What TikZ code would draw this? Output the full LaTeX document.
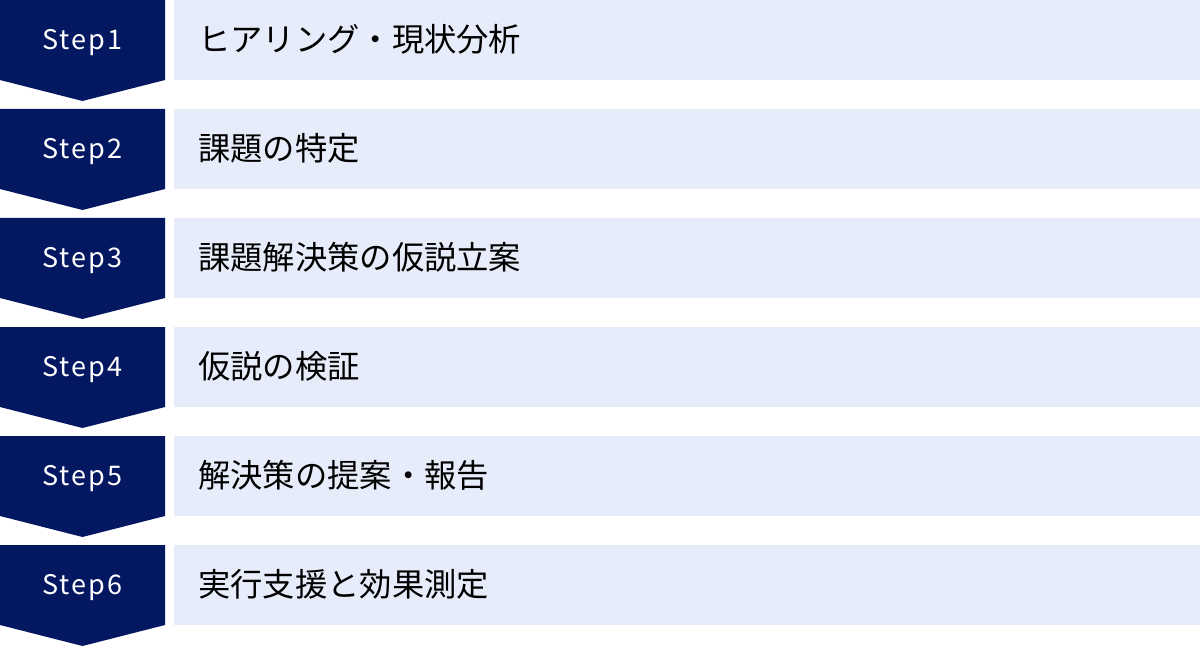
\documentclass[tikz,border=0pt]{standalone}
\usepackage{fontspec}
\setmainfont{Noto Sans CJK JP}
\newfontfamily\stepfont[LetterSpace=8]{Noto Sans CJK JP}
\begin{document}
\begin{tikzpicture}[x=1pt, y=-1pt]
\definecolor{navy}{HTML}{041761}
\definecolor{pale}{HTML}{E6ECF9}
\tikzset{
  steplabel/.style={text = white, font = \stepfont\fontsize{27}{32}\selectfont, inner sep = 0pt},
  steptext/.style={anchor = west, text = black, font = \fontsize{32.3}{38}\selectfont, inner sep = 0pt}
}
\useasboundingbox (0, 0) rectangle (1200, 647);
% Step1
\fill[navy] (0, 0 + 0) -- (165, 0 + 0) -- (165, 80 + 0) -- (82.5, 101 + 0) -- (0, 80 + 0) -- cycle;
\fill[pale] (174, 0 + 0) rectangle (1200, 80 + 0);
\node[steplabel] (s1) at (82.5, 43 + 0) {Step1};
\node[steptext] (t1) at (198, 39 + 0) {ヒアリング・現状分析};
% Step2
\fill[navy] (0, 0 + 109) -- (165, 0 + 109) -- (165, 80 + 109) -- (82.5, 101 + 109) -- (0, 80 + 109) -- cycle;
\fill[pale] (174, 0 + 109) rectangle (1200, 80 + 109);
\node[steplabel] (s2) at (82.5, 43 + 109) {Step2};
\node[steptext] (t2) at (198, 39 + 109) {課題の特定};
% Step3
\fill[navy] (0, 0 + 218) -- (165, 0 + 218) -- (165, 80 + 218) -- (82.5, 101 + 218) -- (0, 80 + 218) -- cycle;
\fill[pale] (174, 0 + 218) rectangle (1200, 80 + 218);
\node[steplabel] (s3) at (82.5, 43 + 218) {Step3};
\node[steptext] (t3) at (198, 39 + 218) {課題解決策の仮説立案};
% Step4
\fill[navy] (0, 0 + 327) -- (165, 0 + 327) -- (165, 80 + 327) -- (82.5, 101 + 327) -- (0, 80 + 327) -- cycle;
\fill[pale] (174, 0 + 327) rectangle (1200, 80 + 327);
\node[steplabel] (s4) at (82.5, 43 + 327) {Step4};
\node[steptext] (t4) at (198, 39 + 327) {仮説の検証};
% Step5
\fill[navy] (0, 0 + 436) -- (165, 0 + 436) -- (165, 80 + 436) -- (82.5, 101 + 436) -- (0, 80 + 436) -- cycle;
\fill[pale] (174, 0 + 436) rectangle (1200, 80 + 436);
\node[steplabel] (s5) at (82.5, 43 + 436) {Step5};
\node[steptext] (t5) at (198, 39 + 436) {解決策の提案・報告};
% Step6
\fill[navy] (0, 0 + 545) -- (165, 0 + 545) -- (165, 80 + 545) -- (82.5, 101 + 545) -- (0, 80 + 545) -- cycle;
\fill[pale] (174, 0 + 545) rectangle (1200, 80 + 545);
\node[steplabel] (s6) at (82.5, 43 + 545) {Step6};
\node[steptext] (t6) at (198, 39 + 545) {実行支援と効果測定};
\end{tikzpicture}
\end{document}
